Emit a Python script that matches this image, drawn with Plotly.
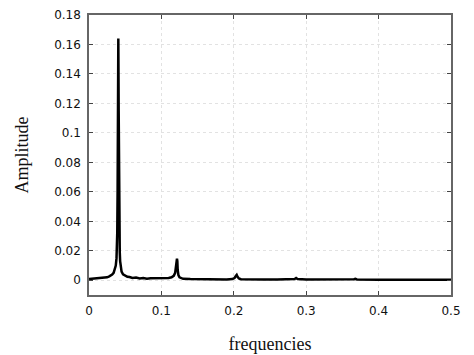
import plotly.graph_objects as go

# Spectrum samples (frequency, amplitude)
freqs = [0.0, 0.005, 0.008, 0.01, 0.013, 0.015, 0.018, 0.02, 0.023, 0.025, 0.028, 0.03, 0.032,
         0.034, 0.036, 0.037, 0.038, 0.0385, 0.039, 0.0395, 0.04, 0.0405, 0.041, 0.0415,
         0.042, 0.0425, 0.043, 0.044, 0.045, 0.047, 0.05, 0.053, 0.056, 0.06, 0.065, 0.07,
         0.075, 0.08, 0.085, 0.09, 0.095, 0.1, 0.105, 0.11, 0.114, 0.117, 0.119, 0.1205,
         0.1215, 0.122, 0.1225, 0.1235, 0.125, 0.127, 0.13, 0.14, 0.15, 0.16, 0.17, 0.18,
         0.19, 0.198, 0.201, 0.203, 0.204, 0.205, 0.207, 0.21, 0.22, 0.24, 0.26, 0.28,
         0.284, 0.286, 0.288, 0.3, 0.33, 0.36, 0.366, 0.368, 0.37, 0.4, 0.43, 0.45, 0.48, 0.5]
amps = [0.0008, 0.0010, 0.0014, 0.0011, 0.0013, 0.0012, 0.0016, 0.0015, 0.0019, 0.0020, 0.0026, 0.0031, 0.0038,
        0.0050, 0.0075, 0.0100, 0.0150, 0.0210, 0.0320, 0.0600, 0.1200, 0.1640, 0.1150, 0.0550,
        0.0300, 0.0190, 0.0130, 0.0080, 0.0058, 0.0040, 0.0030, 0.0024, 0.0022, 0.0015, 0.0018, 0.0012,
        0.0015, 0.0011, 0.0013, 0.0014, 0.0016, 0.0015, 0.0013, 0.0015, 0.0020, 0.0030, 0.0050, 0.0100,
        0.0147, 0.0130, 0.0070, 0.0035, 0.0020, 0.0014, 0.0010, 0.0008, 0.0007, 0.0006, 0.0006, 0.0006,
        0.0006, 0.0008, 0.0015, 0.0030, 0.0036, 0.0025, 0.0012, 0.0007, 0.0005, 0.0005, 0.0005, 0.0005,
        0.0009, 0.0015, 0.0008, 0.0005, 0.0004, 0.0004, 0.0007, 0.0010, 0.0006, 0.0004, 0.0004, 0.0004, 0.0004, 0.0004]

x_ticks = [0, 0.1, 0.2, 0.3, 0.4, 0.5]
x_tick_labels = ["0", "0.1", "0.2", "0.3", "0.4", "0.5"]
y_ticks = [0, 0.02, 0.04, 0.06, 0.08, 0.1, 0.12, 0.14, 0.16, 0.18]
y_tick_labels = ["0", "0.02", "0.04", "0.06", "0.08", "0.1", "0.12", "0.14", "0.16", "0.18"]

fig = go.Figure()
fig.add_trace(go.Scatter(x=freqs, y=amps, mode="lines",
                         line=dict(color="black", width=2.5), showlegend=False))

axis_common = dict(
    showline=True, linecolor="#666666", linewidth=1.5, mirror="ticks",
    ticks="inside", ticklen=4, tickcolor="#444444",
    showgrid=True, gridcolor="#e2e2e2", griddash="dot", gridwidth=1,
    zeroline=False, automargin=False,
    tickfont=dict(family="DejaVu Sans", size=12, color="#111111"),
)

fig.update_layout(
    width=466, height=347,
    margin=dict(l=81, r=23, t=7, b=60),
    paper_bgcolor="white", plot_bgcolor="white",
    xaxis=dict(range=[0, 0.5], tickvals=x_ticks, ticktext=x_tick_labels,
               ticklabelstandoff=4,
               title=dict(text="frequencies", standoff=20,
                          font=dict(family="Liberation Serif", size=18, color="#111111")),
               **axis_common),
    yaxis=dict(range=[-0.01, 0.18], tickvals=y_ticks, ticktext=y_tick_labels,
               ticklabelstandoff=4,
               title=dict(text="Amplitude", standoff=21,
                          font=dict(family="Liberation Serif", size=18, color="#111111")),
               **axis_common),
)

fig.write_html("out.html")
